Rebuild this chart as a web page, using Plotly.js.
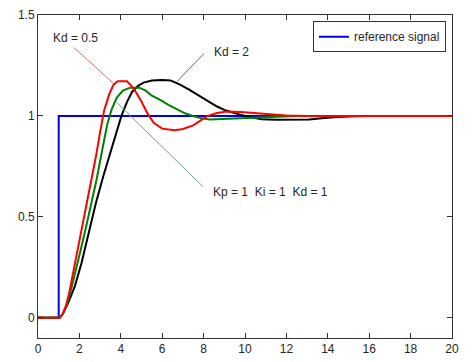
<!DOCTYPE html>
<html>
<head>
<meta charset="utf-8">
<script src="https://cdn.plot.ly/plotly-3.0.1.min.js"></script>
<style>html,body{margin:0;padding:0;background:#fff;}#chart{width:474px;height:362px;}</style>
</head>
<body>
<div id="chart"></div>
<script>
// Reference step signal
var refT = [0, 1, 1, 20];
var refY = [0, 0, 1, 1];

// Kd = 0.5 (red)
var redT = [0, 1, 1.05, 1.2, 1.35, 1.5, 1.75, 2.0, 2.25, 2.5, 2.8, 3.0, 3.2, 3.45, 3.65, 3.85, 4.3, 4.5, 4.75, 5.0, 5.3, 5.6, 6.0, 6.6, 7.0, 7.5, 8.0, 8.15, 8.6, 9.1, 9.8, 10.5, 11.3, 12, 13, 20];
var redY = [0, 0, 0, 0.02, 0.06, 0.12, 0.25, 0.39, 0.52, 0.65, 0.80, 0.92, 1.03, 1.11, 1.155, 1.172, 1.172, 1.15, 1.115, 1.07, 1.01, 0.965, 0.937, 0.929, 0.935, 0.953, 0.985, 0.998, 1.013, 1.022, 1.02, 1.014, 1.006, 1.002, 1.0, 1.0];

// Kp = 1, Ki = 1, Kd = 1 (green)
var greenT = [0, 1, 1.05, 1.2, 1.35, 1.5, 1.75, 2.0, 2.3, 2.6, 2.83, 3.1, 3.35, 3.55, 3.8, 4.1, 4.45, 4.9, 5.2, 5.5, 5.9, 6.3, 6.7, 7.1, 7.5, 7.9, 8.3, 8.9, 9.7, 10.5, 11.5, 12.5, 16];
var greenY = [0, 0, 0, 0.02, 0.055, 0.10, 0.20, 0.31, 0.44, 0.58, 0.685, 0.83, 0.96, 1.03, 1.09, 1.125, 1.14, 1.14, 1.125, 1.10, 1.08, 1.055, 1.032, 1.013, 0.999, 0.988, 0.982, 0.985, 0.987, 0.992, 0.997, 1.0, 1.0];

// Kd = 2 (black)
var blackT = [0, 1, 1.05, 1.2, 1.4, 1.6, 1.78, 2.1, 2.5, 2.8, 3.15, 3.45, 3.79, 4.03, 4.3, 4.55, 4.85, 5.1, 5.5, 6.0, 6.4, 6.86, 7.3, 7.82, 8.2, 8.63, 9.0, 9.43, 9.8, 10.24, 10.8, 11.5, 12.3, 13.1, 13.7, 14.3, 15.2, 16];
var blackY = [0, 0, 0, 0.02, 0.06, 0.11, 0.157, 0.27, 0.437, 0.57, 0.70, 0.80, 0.92, 1.0, 1.07, 1.12, 1.15, 1.165, 1.175, 1.178, 1.176, 1.155, 1.13, 1.098, 1.073, 1.048, 1.03, 1.015, 1.005, 0.995, 0.984, 0.981, 0.981, 0.982, 0.988, 0.994, 0.999, 1.0];

var xTicks = [0, 2, 4, 6, 8, 10, 12, 14, 16, 18, 20];
var yTicks = [0, 0.5, 1, 1.5];
var yTickText = ['0', '0.5', '1', '1.5'];

var FONT = 'Liberation Sans, Arial, sans-serif';
var traces = [
  {x: refT, y: refY, mode: 'lines', name: 'reference signal', line: {color: '#0000ee', width: 2}, showlegend: true},
  {x: blackT, y: blackY, mode: 'lines', name: 'Kd = 2', line: {color: '#000000', width: 2}, showlegend: false},
  {x: greenT, y: greenY, mode: 'lines', name: 'Kd = 1', line: {color: '#008000', width: 2}, showlegend: false},
  {x: redT, y: redY, mode: 'lines', name: 'Kd = 0.5', line: {color: '#ff0000', width: 2}, showlegend: false}
];

var axisCommon = {
  showline: true, linecolor: '#333333', linewidth: 1, mirror: 'ticks',
  ticks: 'inside', ticklen: 5, tickcolor: '#333333', tickwidth: 1,
  showgrid: false, zeroline: false,
  tickfont: {family: FONT, size: 12, color: '#262626'}
};

var layout = {
  width: 474, height: 362,
  margin: {l: 38, r: 22, t: 15, b: 24},
  paper_bgcolor: '#ffffff', plot_bgcolor: '#ffffff',
  font: {family: FONT, size: 12, color: '#262626'},
  xaxis: Object.assign({}, axisCommon, {range: [0, 20], tickvals: xTicks}),
  yaxis: Object.assign({}, axisCommon, {range: [-0.1, 1.5], tickvals: yTicks, ticktext: yTickText}),
  showlegend: true,
  legend: {x: 0.9855, y: 0.981, xanchor: 'right', yanchor: 'top', bordercolor: '#333333', borderwidth: 1, bgcolor: '#ffffff', font: {family: FONT, size: 12, color: '#262626'}},
  shapes: [
    {type: 'line', xref: 'x', yref: 'y', x0: 1.73, y0: 1.339, x1: 3.61, y1: 1.165, line: {color: '#e06a6a', width: 1}},
    {type: 'line', xref: 'x', yref: 'y', x0: 8.02, y0: 1.309, x1: 6.71, y1: 1.170, line: {color: '#6a6a6a', width: 1}},
    {type: 'line', xref: 'x', yref: 'y', x0: 3.81, y0: 1.066, x1: 7.97, y1: 0.650, line: {color: '#7aa07a', width: 1}}
  ],
  annotations: [
    {x: 1.82, y: 1.388, xref: 'x', yref: 'y', text: 'Kd = 0.5', showarrow: false, xanchor: 'center', yanchor: 'middle', font: {family: FONT, size: 12, color: '#262626'}},
    {x: 8.41, y: 1.319, xref: 'x', yref: 'y', text: 'Kd = 2', showarrow: false, xanchor: 'left', yanchor: 'middle', font: {family: FONT, size: 12, color: '#262626'}},
    {x: 8.36, y: 0.621, xref: 'x', yref: 'y', text: 'Kp = 1&nbsp;&nbsp;Ki = 1&nbsp;&nbsp;Kd = 1', showarrow: false, xanchor: 'left', yanchor: 'middle', font: {family: FONT, size: 12, color: '#262626'}}
  ]
};

Plotly.newPlot('chart', traces, layout, {displayModeBar: false, staticPlot: true});
</script>
</body>
</html>
